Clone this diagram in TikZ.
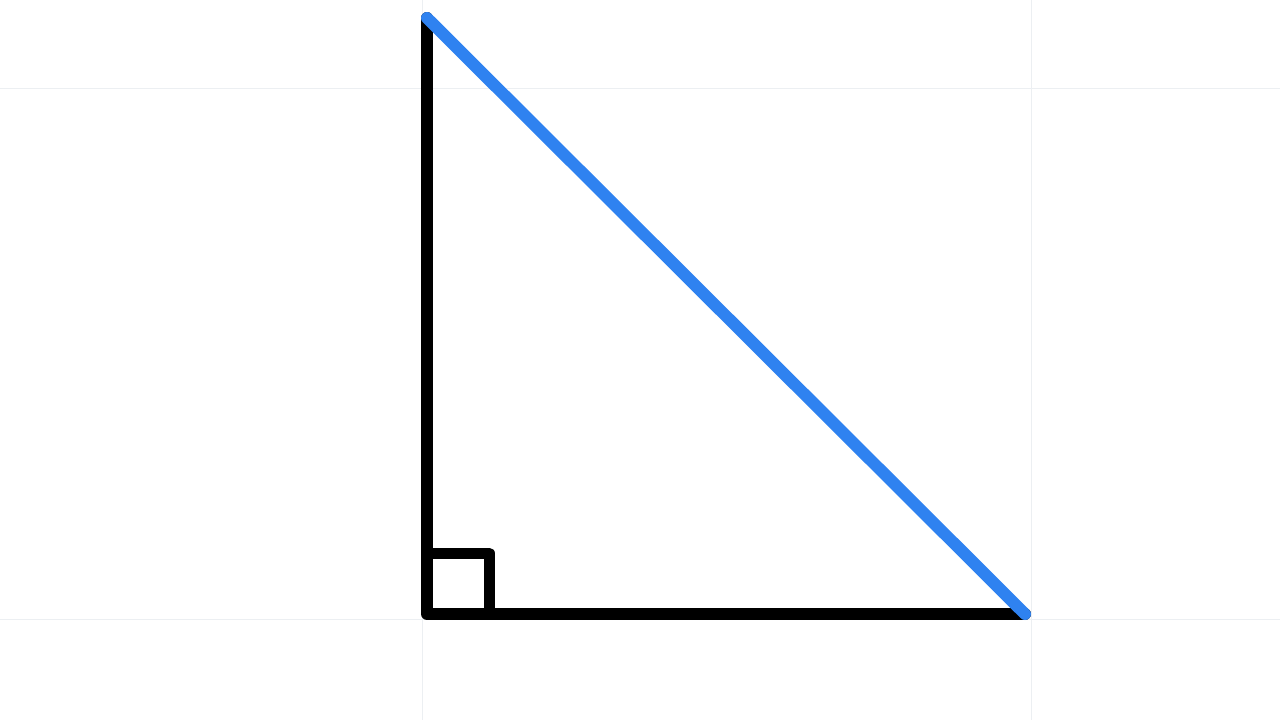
\documentclass[tikz,border=0pt]{standalone}
\definecolor{hypblue}{RGB}{47,130,240}
\definecolor{gridgray}{RGB}{236,239,242}
\begin{document}
\begin{tikzpicture}[x=1pt,y=-1pt,
  gridline/.style={gridgray,line width=1pt},
  leg/.style={black,line width=12pt,line join=round,line cap=round},
  hyp/.style={hypblue,line width=12pt,line cap=round}]
\useasboundingbox[fill=white] (0,0) rectangle (1280,720);
% faint grid
\draw[gridline] (0,88) -- (1280,88);
\draw[gridline] (0,619) -- (1280,619);
\draw[gridline] (422,0) -- (422,720);
\draw[gridline] (1031,0) -- (1031,720);
% vertices
\coordinate (A) at (427,18);
\coordinate (C) at (427,614);
\coordinate (B) at (1025,614);
% legs
\draw[leg] (A) -- (C) -- (B);
% right-angle marker
\draw[leg,line width=11pt,line cap=butt] (427,553) -- (489,553) -- (489,614);
% hypotenuse
\draw[hyp] (A) -- (B);
\end{tikzpicture}
\end{document}
